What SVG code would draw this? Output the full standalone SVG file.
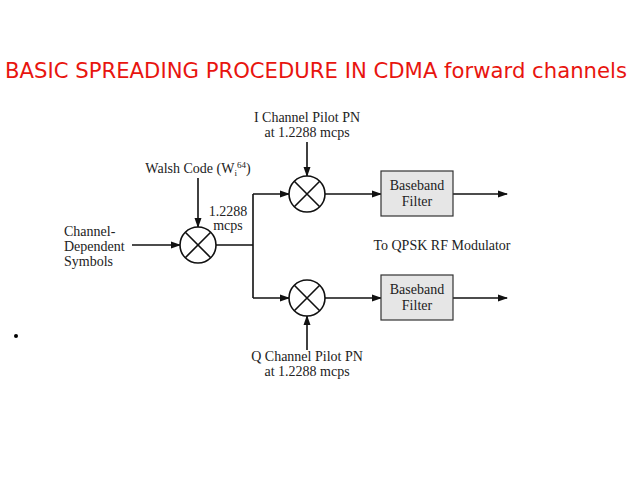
<svg xmlns="http://www.w3.org/2000/svg" width="638" height="478" viewBox="0 0 638 478">
<style>
.t{font-family:"Liberation Serif",serif;font-size:14px;fill:#222}
.c{text-anchor:middle}
.ln{stroke:#111;stroke-width:1.6;fill:none}
.mx{fill:#fff;stroke:#111;stroke-width:1.6}
.bx{fill:#e6e6e6;stroke:#333;stroke-width:1.2}
</style>
<defs><marker id="a" markerWidth="10" markerHeight="8" refX="9" refY="4" orient="auto" markerUnits="userSpaceOnUse"><path d="M0,0.5 L10,4 L0,7.5 Z" fill="#111"/></marker></defs>
<rect width="638" height="478" fill="#fff"/>
<text x="5" y="78" font-family="'DejaVu Sans',sans-serif" font-size="21.2" fill="#e8150f">BASIC SPREADING PROCEDURE IN CDMA forward channels</text>
<circle cx="16" cy="336" r="2" fill="#000"/>
<g id="connectors">
<path class="ln" d="M132,245 H180" marker-end="url(#a)"/>
<path class="ln" d="M198,178 V227" marker-end="url(#a)"/>
<path class="ln" d="M216,245 H253 M253,194 V298"/>
<path class="ln" d="M253,194 H289" marker-end="url(#a)"/>
<path class="ln" d="M253,298 H289" marker-end="url(#a)"/>
<path class="ln" d="M307,142 V176" marker-end="url(#a)"/>
<path class="ln" d="M307,350 V316" marker-end="url(#a)"/>
<path class="ln" d="M325,194 H381" marker-end="url(#a)"/>
<path class="ln" d="M325,298 H381" marker-end="url(#a)"/>
<path class="ln" d="M453,194 H507" marker-end="url(#a)"/>
<path class="ln" d="M453,298 H507" marker-end="url(#a)"/>
</g>
<g id="mixer1"><circle class="mx" cx="198" cy="245" r="18"/><path class="ln" d="M185.3,232.3 L210.7,257.7 M210.7,232.3 L185.3,257.7"/></g>
<g id="mixerI"><circle class="mx" cx="307" cy="194" r="18"/><path class="ln" d="M294.3,181.3 L319.7,206.7 M319.7,181.3 L294.3,206.7"/></g>
<g id="mixerQ"><circle class="mx" cx="307" cy="298" r="18"/><path class="ln" d="M294.3,285.3 L319.7,310.7 M319.7,285.3 L294.3,310.7"/></g>
<g id="filterI"><rect class="bx" x="381" y="171" width="72" height="45"/><text class="t c" x="417" y="190">Baseband</text><text class="t c" x="417" y="206">Filter</text></g>
<g id="filterQ"><rect class="bx" x="381" y="275" width="72" height="45"/><text class="t c" x="417" y="294">Baseband</text><text class="t c" x="417" y="310">Filter</text></g>
<g id="labels">
<text class="t c" x="307" y="122">I Channel Pilot PN</text>
<text class="t c" x="307" y="137">at 1.2288 mcps</text>
<text class="t c" x="198" y="173">Walsh Code (W<tspan font-size="9" dy="3">i</tspan><tspan font-size="9" dy="-8">64</tspan><tspan dy="5">)</tspan></text>
<text class="t c" x="228" y="216">1.2288</text>
<text class="t c" x="228" y="230">mcps</text>
<text class="t" x="64" y="236">Channel-</text>
<text class="t" x="64" y="251">Dependent</text>
<text class="t" x="64" y="266">Symbols</text>
<text class="t c" x="442" y="250">To QPSK RF Modulator</text>
<text class="t c" x="307" y="361">Q Channel Pilot PN</text>
<text class="t c" x="307" y="376">at 1.2288 mcps</text>
</g>
</svg>
